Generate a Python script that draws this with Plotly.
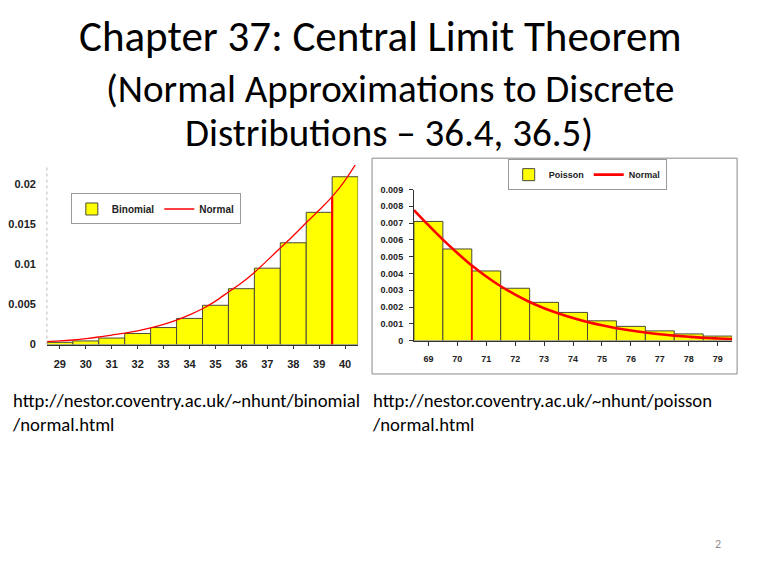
import plotly.graph_objects as go

# ---- data ----
binom_x = [29, 30, 31, 32, 33, 34, 35, 36, 37, 38, 39, 40]
binom_p = [0.00028, 0.00045, 0.00081, 0.00138, 0.00212, 0.00326,
           0.0049, 0.00697, 0.00953, 0.0127, 0.0165, 0.02094]
binom_norm_x = [28.5, 29, 29.5, 30, 30.5, 31, 31.5, 32, 32.5, 33, 33.5, 34, 34.5,
                35, 35.5, 36, 36.5, 37, 37.5, 38, 38.5, 39, 39.5, 40, 40.5]
binom_norm_y = [0.00037, 0.00045, 0.00057, 0.00073, 0.00094, 0.00118, 0.00142,
                0.00171, 0.00208, 0.00252, 0.00305, 0.0037, 0.00446, 0.00542,
                0.00656, 0.00768, 0.009, 0.0105, 0.01205, 0.01358, 0.0152,
                0.01678, 0.01845, 0.0205, 0.023]
binom_cut = 39.5
binom_yticks = [0, 0.005, 0.01, 0.015, 0.02]
binom_ytext = ["0", "0.005", "0.01", "0.015", "0.02"]

pois_x = [69, 70, 71, 72, 73, 74, 75, 76, 77, 78, 79]
pois_p = [0.0071, 0.00546, 0.00415, 0.00312, 0.00228, 0.00168,
          0.00118, 0.00085, 0.00058, 0.0004, 0.00027]
pois_norm_x = [68.5, 69, 69.5, 70, 70.5, 71, 71.5, 72, 72.5, 73, 73.5, 74,
               74.5, 75, 75.5, 76, 76.5, 77, 77.5, 78, 78.5, 79, 79.5]
pois_norm_y = [0.00778, 0.00688, 0.00602, 0.00522, 0.00447, 0.00382, 0.00324,
               0.00274, 0.0023, 0.00193, 0.00162, 0.00135, 0.00111, 0.00091,
               0.00074, 0.0006, 0.00048, 0.00038, 0.0003, 0.00023, 0.00017,
               0.00013, 0.0001]
pois_cut = 70.5
pois_yticks = [0, 0.001, 0.002, 0.003, 0.004, 0.005, 0.006, 0.007, 0.008, 0.009]
pois_ytext = ["0", "0.001", "0.002", "0.003", "0.004", "0.005",
              "0.006", "0.007", "0.008", "0.009"]

W, H = 768, 576
OFF = 8  # the page body margin pushes the figure 8px right and down
SLIDE_FONT = "Calibri, Carlito, Lato, sans-serif"
CHART_FONT = "Arial, Liberation Sans, sans-serif"


def px(x):
    return (x - OFF) / W


def py(y):
    return 1 - (y - OFF) / H


fig = go.Figure()

# left chart: binomial
fig.add_trace(go.Bar(x=binom_x, y=binom_p, width=1, name="Binomial",
                     marker=dict(color="#FFFF00", line=dict(color="#4a4a3a", width=1)),
                     xaxis="x", yaxis="y", legend="legend"))
fig.add_trace(go.Scatter(x=binom_norm_x, y=binom_norm_y, mode="lines", name="Normal",
                         line=dict(color="#FF0000", width=1.3, shape="spline"),
                         xaxis="x", yaxis="y", legend="legend"))
cut_y = binom_norm_y[binom_norm_x.index(binom_cut)]
fig.add_trace(go.Scatter(x=[binom_cut, binom_cut], y=[0, cut_y], mode="lines",
                         line=dict(color="#FF0000", width=2.2), showlegend=False,
                         xaxis="x", yaxis="y"))

# right chart: poisson
fig.add_trace(go.Bar(x=pois_x, y=pois_p, width=1, name="Poisson",
                     marker=dict(color="#FFFF00", line=dict(color="#4a4a3a", width=1)),
                     xaxis="x2", yaxis="y2", legend="legend2"))
fig.add_trace(go.Scatter(x=pois_norm_x, y=pois_norm_y, mode="lines", name="Normal",
                         line=dict(color="#FF0000", width=2.6, shape="spline"),
                         xaxis="x2", yaxis="y2", legend="legend2"))
cut_y2 = pois_norm_y[pois_norm_x.index(pois_cut)]
fig.add_trace(go.Scatter(x=[pois_cut, pois_cut], y=[0, cut_y2], mode="lines",
                         line=dict(color="#FF0000", width=1.8), showlegend=False,
                         xaxis="x2", yaxis="y2"))

tick_font_l = dict(family=CHART_FONT, size=11, color="#222222", weight="bold")
tick_font_r = dict(family=CHART_FONT, size=9, color="#222222", weight="bold")

fig.update_layout(
    width=W, height=H,
    margin=dict(l=0, r=0, t=0, b=0),
    paper_bgcolor="white", plot_bgcolor="white",
    barmode="overlay",
    xaxis=dict(domain=[px(45), px(357)], range=[28.5, 40.5], tickvals=binom_x,
               ticks="outside", ticklen=3, tickcolor="#333333",
               showline=True, linecolor="#333333", linewidth=1,
               showgrid=False, zeroline=False, tickfont=tick_font_l,
               ticklabelstandoff=6, anchor="y"),
    yaxis=dict(domain=[py(346), py(163)], range=[0, 0.0224],
               tickvals=binom_yticks, ticktext=binom_ytext,
               showline=False, showgrid=False, zeroline=False, ticks="",
               tickfont=tick_font_l, ticklabelstandoff=10, anchor="x"),
    xaxis2=dict(domain=[px(413), px(732)], range=[68.5, 79.5], tickvals=pois_x,
                ticks="outside", ticklen=4, tickcolor="#333333",
                showline=True, linecolor="#333333", linewidth=1,
                showgrid=False, zeroline=False, tickfont=tick_font_r,
                ticklabelstandoff=6, anchor="y2"),
    yaxis2=dict(domain=[py(342), py(188)], range=[0, 0.009],
                tickvals=pois_yticks, ticktext=pois_ytext,
                ticks="outside", ticklen=4, tickcolor="#333333",
                showline=True, linecolor="#333333", linewidth=1,
                showgrid=False, zeroline=False, tickfont=tick_font_r,
                ticklabelstandoff=4, anchor="x2"),
    legend=dict(x=px(69), y=py(192), xanchor="left", yanchor="top",
                orientation="h", bgcolor="white", bordercolor="#999999",
                borderwidth=1, font=dict(family=CHART_FONT, size=10,
                                         color="#222222", weight="bold"),
                itemwidth=30, tracegroupgap=0),
    legend2=dict(x=px(507), y=py(157), xanchor="left", yanchor="top",
                 orientation="h", bgcolor="white", bordercolor="#999999",
                 borderwidth=1, font=dict(family=CHART_FONT, size=9,
                                          color="#222222", weight="bold"),
                 itemwidth=30, tracegroupgap=0),
    shapes=[
        # dotted left edge of the binomial plot area
        dict(type="line", xref="x domain", yref="y domain", x0=0, x1=0, y0=0, y1=1,
             line=dict(color="#BBBBBB", width=1, dash="dot")),
        # frame round the poisson chart
        dict(type="rect", xref="paper", yref="paper",
             x0=px(371), x1=px(737), y0=py(376), y1=py(156),
             line=dict(color="#888888", width=1)),
    ],
)

title_font = dict(family=SLIDE_FONT, size=43, color="black")
sub_font = dict(family=SLIDE_FONT, size=39, color="black")
url_font = dict(family=SLIDE_FONT, size=18.7, color="black")

fig.add_annotation(text="Chapter 37: Central Limit Theorem", x=px(379), y=py(32),
                   xref="paper", yref="paper", showarrow=False, font=title_font,
                   xanchor="center", yanchor="middle")
fig.add_annotation(text="(Normal Approximations to Discrete", x=px(389), y=py(85),
                   xref="paper", yref="paper", showarrow=False, font=sub_font,
                   xanchor="center", yanchor="middle")
fig.add_annotation(text="Distributions – 36.4, 36.5)", x=px(388), y=py(130),
                   xref="paper", yref="paper", showarrow=False, font=sub_font,
                   xanchor="center", yanchor="middle")
fig.add_annotation(text="http://nestor.coventry.ac.uk/~nhunt/binomial<br>/normal.html",
                   x=px(8), y=py(389), xref="paper", yref="paper", showarrow=False,
                   font=url_font, xanchor="left", yanchor="top", align="left")
fig.add_annotation(text="http://nestor.coventry.ac.uk/~nhunt/poisson<br>/normal.html",
                   x=px(369), y=py(389), xref="paper", yref="paper", showarrow=False,
                   font=url_font, xanchor="left", yanchor="top", align="left")
fig.add_annotation(text="2", x=px(718), y=py(549), xref="paper", yref="paper",
                   showarrow=False, xanchor="center", yanchor="middle",
                   font=dict(family=SLIDE_FONT, size=12, color="#8C8C8C"))

fig.write_html("out.html")
